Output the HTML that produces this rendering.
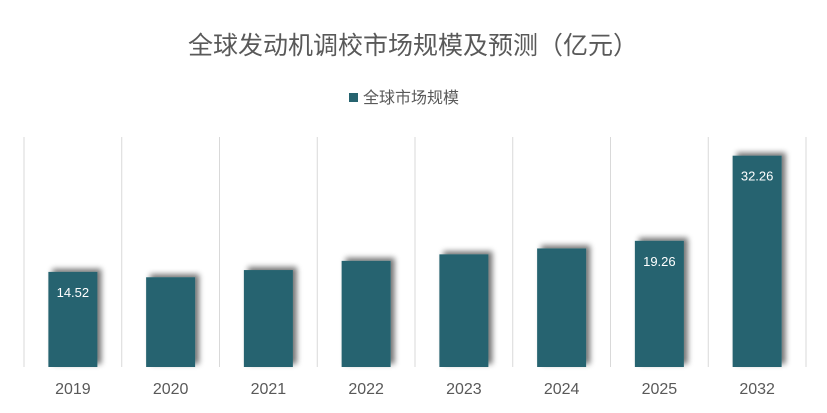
<!DOCTYPE html>
<html><head><meta charset="utf-8"><style>
html,body{margin:0;padding:0;background:#fff;width:827px;height:413px;overflow:hidden}
svg text{font-family:"Liberation Sans","Noto Sans CJK SC",sans-serif}
</style></head><body>
<svg id="chart" width="827" height="413" xmlns="http://www.w3.org/2000/svg">
<defs><filter id="sh" x="-20%" y="-20%" width="150%" height="140%"><feGaussianBlur in="SourceAlpha" stdDeviation="3"/><feOffset dx="4" dy="-3"/><feComponentTransfer><feFuncA type="linear" slope="0.55"/></feComponentTransfer><feMerge><feMergeNode/><feMergeNode in="SourceGraphic"/></feMerge></filter></defs>
<text x="413" y="54" text-anchor="middle" font-size="25" fill="#595959">全球发动机调校市场规模及预测（亿元）</text>
<rect x="349" y="93" width="9" height="9" fill="#26636f"/>
<text x="363" y="103" font-size="16" fill="#595959">全球市场规模</text>
<g id="grid"></g><g id="bars"></g><g id="labels"></g>
</svg>
<script>
const categories=["2019","2020","2021","2022","2023","2024","2025","2032"];
const values=[14.52,13.7,14.8,16.2,17.2,18.1,19.26,32.26];
const shownLabels=["14.52","","","","","","19.26","32.26"];
const left=24,right=806,base=367,pxPerUnit=6.55;
const cw=(right-left)/categories.length;
const x=i=>left+i*cw;
const y=v=>base-v*pxPerUnit;
const ns="http://www.w3.org/2000/svg";
const grid=document.getElementById('grid'),bars=document.getElementById('bars'),labels=document.getElementById('labels');
for(let i=0;i<=categories.length;i++){
 const l=document.createElementNS(ns,'line');
 
 
 l.setAttribute('x1',x(i));l.setAttribute('x2',x(i));l.setAttribute('y1',137);l.setAttribute('y2',base);
 l.setAttribute('stroke','#d9d9d9');l.setAttribute('stroke-width','1');grid.appendChild(l);
}
categories.forEach((c,i)=>{
 const bw=49,bx=x(i)+cw/2-bw/2;
 const r=document.createElementNS(ns,'rect');
 
 
 r.setAttribute('x',bx);r.setAttribute('y',y(values[i]));r.setAttribute('width',bw);r.setAttribute('height',base-y(values[i]));
 r.setAttribute('fill','#26636f');r.setAttribute('filter','url(#sh)');bars.appendChild(r);
 const t=document.createElementNS(ns,'text');
 
 
 t.setAttribute('x',x(i)+cw/2);t.setAttribute('y',394);t.setAttribute('text-anchor','middle');
 t.setAttribute('font-size','16');t.setAttribute('fill','#595959');t.textContent=c;labels.appendChild(t);
 if(shownLabels[i]){
  const v=document.createElementNS(ns,'text');
  
  
  v.setAttribute('x',x(i)+cw/2);v.setAttribute('y',y(values[i])+25);v.setAttribute('text-anchor','middle');
  v.setAttribute('font-size','13');v.setAttribute('fill','#fff');v.textContent=shownLabels[i];labels.appendChild(v);
 }
});
</script>
</body></html>
